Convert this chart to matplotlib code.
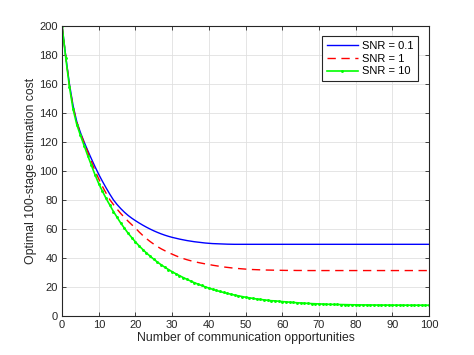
import matplotlib
matplotlib.use("Agg")
import matplotlib.pyplot as plt

plt.rcParams['font.family'] = ['Liberation Sans', 'DejaVu Sans']

x = list(range(0, 101))

snr01 = [200, 179, 160, 145, 134, 126.5, 120, 114, 108.3, 102.8,
         97.6, 92.8, 88.3, 84, 80, 76.8, 74.0, 71.5, 69.3, 67.4,
         65.7, 64.1, 62.6, 61.2, 59.9, 58.7, 57.6, 56.6, 55.7, 54.9,
         54.2, 53.6, 53.0, 52.5, 52.0, 51.6, 51.2, 50.9, 50.6, 50.3,
         50.1, 49.9, 49.8, 49.7, 49.6, 49.5, 49.45, 49.4, 49.4, 49.4,
         49.4, 49.4, 49.4, 49.4, 49.4, 49.4, 49.4, 49.4, 49.4, 49.4,
         49.4, 49.4, 49.4, 49.4, 49.4, 49.4, 49.4, 49.4, 49.4, 49.4,
         49.4, 49.4, 49.4, 49.4, 49.4, 49.4, 49.4, 49.4, 49.4, 49.4,
         49.4, 49.4, 49.4, 49.4, 49.4, 49.4, 49.4, 49.4, 49.4, 49.4,
         49.4, 49.4, 49.4, 49.4, 49.4, 49.4, 49.4, 49.4, 49.4, 49.4,
         49.4]

snr1 = [200, 178.5, 159, 144, 133.5, 125.8, 119.5, 113, 106.5, 100,
        94.4, 89.3, 84.6, 80.2, 76.8, 73.6, 70.6, 67.9, 65.3, 62.9,
        60.6, 57.9, 55.5, 53.3, 51.3, 49.5, 47.8, 46.3, 45.0, 43.7,
        42.6, 41.5, 40.5, 39.6, 38.8, 38.1, 37.5, 36.9, 36.4, 35.9,
        35.5, 35.0, 34.6, 34.2, 33.8, 33.5, 33.2, 32.9, 32.7, 32.5,
        32.3, 32.1, 32.0, 31.9, 31.8, 31.7, 31.65, 31.6, 31.55, 31.5,
        31.45, 31.4, 31.4, 31.4, 31.35, 31.35, 31.35, 31.3, 31.3, 31.3,
        31.3, 31.3, 31.3, 31.3, 31.3, 31.3, 31.3, 31.3, 31.3, 31.3,
        31.3, 31.3, 31.3, 31.3, 31.3, 31.3, 31.3, 31.3, 31.3, 31.3,
        31.3, 31.3, 31.3, 31.3, 31.3, 31.3, 31.3, 31.3, 31.3, 31.3,
        31.3]

snr10 = [200, 178, 158, 142.5, 132, 124.5, 117.5, 110.5, 103.8, 97.2,
         91.2, 86, 81, 76.5, 72, 68, 64, 60.5, 57, 54,
         51, 48.3, 45.8, 43.4, 41.2, 39.1, 37.1, 35.3, 33.6, 32.0,
         30.5, 29.1, 27.8, 26.5, 25.3, 24.1, 23.0, 22.0, 21.0, 20.1,
         19.2, 18.4, 17.6, 16.9, 16.2, 15.6, 15.0, 14.4, 13.9, 13.4,
         12.9, 12.5, 12.1, 11.7, 11.4, 11.1, 10.8, 10.5, 10.4, 10.15,
         9.9, 9.7, 9.5, 9.3, 9.1, 8.95, 8.8, 8.65, 8.5, 8.4,
         8.3, 8.2, 8.1, 8.0, 7.95, 7.9, 7.85, 7.8, 7.75, 7.7,
         7.65, 7.62, 7.6, 7.58, 7.56, 7.54, 7.52, 7.5, 7.49, 7.48,
         7.47, 7.46, 7.45, 7.44, 7.43, 7.42, 7.42, 7.41, 7.41, 7.4,
         7.4]

labels = ['SNR = 0.1', 'SNR = 1', 'SNR = 10']
xticks = list(range(0, 101, 10))
yticks = list(range(0, 201, 20))

fig = plt.figure(figsize=(4.74, 3.55), dpi=100)
ax = fig.add_axes([0.131, 0.110, 0.774, 0.817])

ax.plot(x, snr01, color=(0, 0, 1), lw=1.0, label=labels[0])
ax.plot(x, snr1, color=(1, 0, 0), lw=1.0, ls=(0, (6, 4)), label=labels[1])
ax.plot(x, snr10, color=(0, 1, 0), lw=1.2, marker='.', markersize=2.2, label=labels[2])

ax.set_xlim(0, 100)
ax.set_ylim(0, 200)
ax.set_xticks(xticks)
ax.set_yticks(yticks)
ax.grid(True, color=(0.88, 0.88, 0.88), lw=0.6)
ax.set_axisbelow(True)
for s in ax.spines.values():
    s.set_color((0.15, 0.15, 0.15))
    s.set_linewidth(0.8)
ax.tick_params(direction='in', top=True, right=True, length=3, width=0.6,
               colors=(0.15, 0.15, 0.15), labelsize=8, pad=3)
ax.set_xlabel('Number of communication opportunities', fontsize=8.8,
              color=(0.15, 0.15, 0.15), labelpad=1)
ax.set_ylabel('Optimal 100-stage estimation cost', fontsize=8.8,
              color=(0.15, 0.15, 0.15), labelpad=2)

leg = ax.legend(loc='upper right', fontsize=8, frameon=True, fancybox=False,
                edgecolor=(0.15, 0.15, 0.15), framealpha=1, borderpad=0.4,
                labelspacing=0.25, handlelength=2.8, handletextpad=0.4,
                borderaxespad=0.95)
leg.get_frame().set_linewidth(0.8)

fig.savefig('out.png', dpi=100)
